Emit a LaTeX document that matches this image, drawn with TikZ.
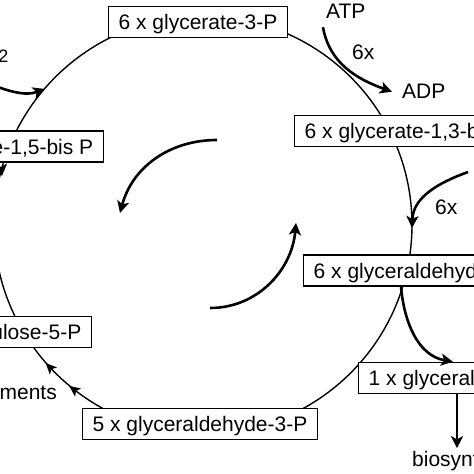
\documentclass[tikz,border=0pt]{standalone}
\usepackage{fontspec}
\setmainfont{Liberation Sans}
\usetikzlibrary{arrows.meta}
\usetikzlibrary{decorations.markings}
\tikzset{
    pool/.style={
           rectangle,
           draw=black, line width=1.4pt,
           fill=white,
           minimum height=31pt,
           inner xsep=10pt,
           text height=16pt,
           text depth=0pt,
           },
    txt/.style={inner sep=0pt},
    fat/.style={->, line width=2.6pt},
    midtip/.tip={Stealth[length=11pt,width=10pt,inset=2.5pt,reversed]},
}

\begin{document}
\begin{tikzpicture}[x=1pt,y=1pt,
  >={Stealth[length=12pt,width=12pt,inset=3pt]},
  font=\fontsize{21}{25}\selectfont]
 \useasboundingbox (0,0) rectangle (474,474);
 \clip (0,0) rectangle (474,474);
 \fill[white] (0,0) rectangle (474,474);

 % the cycle itself
 \coordinate (cyc) at (203,249);
 \draw[line width=1.4pt, postaction={decorate},
   decoration={markings,
     mark=at position 0.623 with {\arrow{midtip}},
     mark=at position 0.648 with {\arrow{midtip}}}]
   (cyc) circle[radius=209];

 \node[pool] (gp3) at (198,452) {6 x glycerate-3-P};
 \node[pool,
 anchor=west] (bpg) at (294,343) {6 x glycerate-1,3-bis P};
 \node[pool,
 anchor=west] (gap6) at (303,203.5) {6 x glyceraldehyde-3-P};
 \node[pool,
 anchor=west] (gap1) at (358,96) {1 x glyceraldehyde-3-P};
 \node[pool] (gap5) at (200,50) {5 x glyceraldehyde-3-P};
 \node[pool,
 anchor=east] (ru5p) at (92,142) {6 x ribulose-5-P};
 \node[pool,
 anchor=east] (rubp) at (104,327.5) {6 x ribulose-1,5-bis P};

 \node[txt, anchor=base east] (co2) at (8.5,416)
   {CO\raisebox{-5pt}{\fontsize{18}{18}\selectfont 2}};
 \node[txt, anchor=base west] (atp) at (326,455) {ATP};
 \node[txt, anchor=base west] (six1) at (352,414) {6x};
 \node[txt, anchor=base west] (adp) at (402,375) {ADP};
 \node[txt, anchor=base west] (six2) at (435,259) {6x};
 \node[txt, anchor=base east] (rearr) at (57,74) {rearrangements};
 \node[txt, anchor=base west] (bios) at (412,8) {biosynthesis};

 % free ends of the side arrows
 \coordinate (co2in) at (-5,388);
 \coordinate (co2on) at (45,385);
 \coordinate (nadin) at (468,302);
 \coordinate (nadon) at (412,246);
 \coordinate (adpin) at (-6,312);
 \coordinate (adpon) at (2,298);
 \coordinate (turnAa) at (217,334);
 \coordinate (turnAb) at (120,261);
 \coordinate (turnBa) at (210,166);
 \coordinate (turnBb) at (296,251);

 \draw[fat] (co2in) to[out=-20,in=200] (co2on);
 \draw[fat] ([xshift=-3pt,yshift=-8pt]atp.south west)
   to[out=-80,in=160] ([xshift=-10pt]adp.west);
 \draw[fat] (nadin) to[out=200,in=88] (nadon);
 \draw[fat] (adpin) to[out=-80,in=95] (adpon);
 \draw[fat] ([xshift=98pt]gap6.south west)
   to[out=-85,in=170] ([xshift=95pt]gap1.north west);
 \draw[fat] ([xshift=99pt]gap1.south west) -- ++(0,-54);
 \draw[fat] (turnAa) to[out=180,in=75] (turnAb);
 \draw[fat] (turnBa) to[out=0,in=-95] (turnBb);
\end{tikzpicture}
\end{document}
